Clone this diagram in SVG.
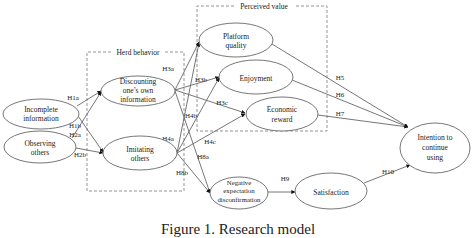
<svg xmlns="http://www.w3.org/2000/svg" width="474" height="238" viewBox="0 0 474 238">
<defs>
<marker id="ah" viewBox="0 0 6 6" refX="5.5" refY="3" markerWidth="4" markerHeight="4" orient="auto" markerUnits="userSpaceOnUse">
<path d="M0,0 L6,3 L0,6 Z" fill="#111"/>
</marker>
</defs>
<style>
.n ellipse{fill:#fff;stroke:#777;stroke-width:1}
text{font-family:"Liberation Serif","Times New Roman",serif;fill:#222}
.t{font-size:7.5px;text-anchor:middle}
.s{font-size:6.8px;text-anchor:middle}
.h{font-size:7px;text-anchor:middle}
.box{fill:none;stroke:#888;stroke-width:0.9;stroke-dasharray:3,2}
.c line{stroke:#666;stroke-width:0.9;marker-end:url(#ah)}
.cap{font-size:15px;text-anchor:middle;fill:#222}
</style>
<rect width="474" height="238" fill="#fff"/>

<g id="herd-box">
<path class="box" d="M111,52 H87 V191 H184 V52 H164"/>
<text class="t" x="138" y="54.5">Herd behavior</text>
</g>
<g id="perceived-box">
<path class="box" d="M234,6 H197 V131 H327 V6 H294"/>
<text class="t" x="264" y="8.5">Perceived value</text>
</g>

<g class="c" id="connectors">
<line x1="77" y1="106" x2="101" y2="91"/>
<line x1="78" y1="116" x2="103" y2="152"/>
<line x1="72" y1="138" x2="101" y2="92"/>
<line x1="76" y1="148" x2="103" y2="153"/>
<line x1="175" y1="90" x2="199" y2="42"/>
<line x1="175" y1="90" x2="219" y2="77"/>
<line x1="175" y1="90" x2="245" y2="113"/>
<line x1="175" y1="91" x2="210" y2="193"/>
<line x1="177" y1="153" x2="199" y2="43"/>
<line x1="177" y1="153" x2="219" y2="78"/>
<line x1="177" y1="153" x2="245" y2="114"/>
<line x1="177" y1="153" x2="210" y2="193"/>
<line x1="272" y1="44" x2="408" y2="127"/>
<line x1="292" y1="80" x2="408" y2="127"/>
<line x1="318" y1="115" x2="408" y2="127"/>
<line x1="268" y1="192" x2="295" y2="192"/>
<line x1="364" y1="183" x2="410" y2="165"/>
</g>

<g id="hyp-labels">
<text class="h" x="73" y="99.5">H1a</text>
<text class="h" x="75" y="127.5">H1b</text>
<text class="h" x="75" y="136.5">H2a</text>
<text class="h" x="80" y="156.5">H2b</text>
<text class="h" x="168" y="70.5">H3a</text>
<text class="h" x="201" y="82">H3b</text>
<text class="h" x="222" y="104.5">H3c</text>
<text class="h" x="168" y="140.5">H4a</text>
<text class="h" x="191" y="117.5">H4b</text>
<text class="h" x="210" y="143.5">H4c</text>
<text class="h" x="203" y="158.5">H8a</text>
<text class="h" x="182" y="174.5">H8b</text>
<text class="h" x="340" y="79.5">H5</text>
<text class="h" x="340" y="96.5">H6</text>
<text class="h" x="340" y="115.5">H7</text>
<text class="h" x="285" y="180.5">H9</text>
<text class="h" x="388" y="173.5">H10</text>
</g>

<g class="n" id="incomplete">
<ellipse cx="41" cy="114" rx="38" ry="15"/>
<text class="t" x="41" y="112">Incomplete</text>
<text class="t" x="41" y="121">information</text>
</g>
<g class="n" id="observing">
<ellipse cx="40" cy="147" rx="36" ry="16"/>
<text class="t" x="40" y="145.5">Observing</text>
<text class="t" x="40" y="154.5">others</text>
</g>
<g class="n" id="discounting">
<ellipse cx="138" cy="91" rx="37" ry="15"/>
<text class="t" x="138" y="83.5">Discounting</text>
<text class="t" x="138" y="92.5">one’s own</text>
<text class="t" x="138" y="101.5">information</text>
</g>
<g class="n" id="imitating">
<ellipse cx="140" cy="153" rx="37" ry="17"/>
<text class="t" x="140" y="151.5">Imitating</text>
<text class="t" x="140" y="161">others</text>
</g>
<g class="n" id="platform">
<ellipse cx="236" cy="40" rx="37" ry="17"/>
<text class="t" x="236" y="38.5">Platform</text>
<text class="t" x="236" y="47.5">quality</text>
</g>
<g class="n" id="enjoyment">
<ellipse cx="256" cy="77" rx="37" ry="17"/>
<text class="t" x="256" y="80.5">Enjoyment</text>
</g>
<g class="n" id="economic">
<ellipse cx="282" cy="114" rx="36" ry="17"/>
<text class="t" x="282" y="111.5">Economic</text>
<text class="t" x="282" y="121.5">reward</text>
</g>
<g class="n" id="intention">
<ellipse cx="435" cy="148" rx="35" ry="25"/>
<text class="t" x="435" y="139.5">Intention to</text>
<text class="t" x="435" y="149.5">continue</text>
<text class="t" x="435" y="159.5">using</text>
</g>
<g class="n" id="negative">
<ellipse cx="239" cy="193" rx="29" ry="16"/>
<text class="s" x="239" y="184.5">Negative</text>
<text class="s" x="239" y="193">expectation</text>
<text class="s" x="239" y="201.5">disconfirmation</text>
</g>
<g class="n" id="satisfaction">
<ellipse cx="331" cy="191" rx="36" ry="18"/>
<text class="t" x="331" y="194.5">Satisfaction</text>
</g>

<text class="cap" x="238" y="234">Figure 1. Research model</text>
</svg>
